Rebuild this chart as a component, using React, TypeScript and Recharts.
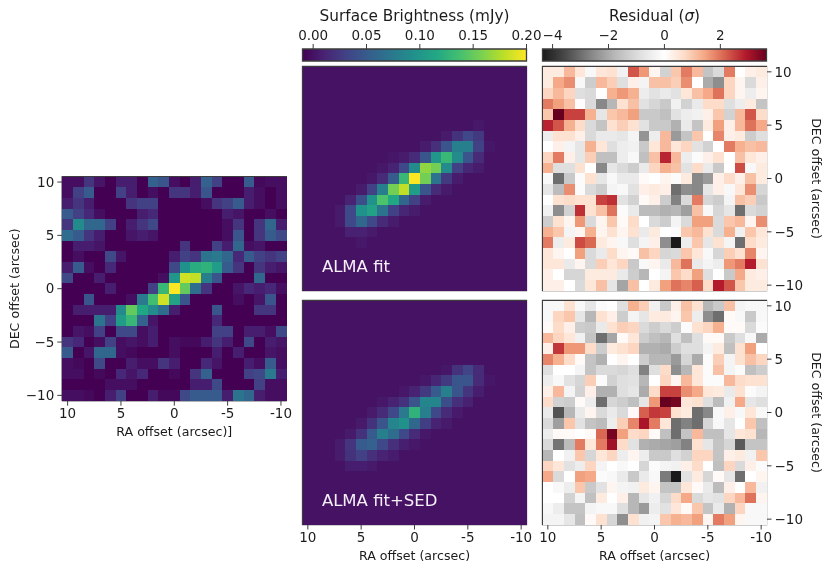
import React from "react";
import {
  Bar,
  BarChart,
  ReferenceArea,
  ReferenceDot,
  Scatter,
  ScatterChart,
  XAxis,
  YAxis,
} from "recharts";

const FONT = "DejaVu Sans";
const INK = "#1c1c1c";
const SPINE = "#3d3d3d";
const PAGE_W = 831;
const PAGE_H = 572;
const CELL = 224 / 21;

const raOffsets = [10, 9, 8, 7, 6, 5, 4, 3, 2, 1, 0, -1, -2, -3, -4, -5, -6, -7, -8, -9, -10];
const decOffsets = [10, 9, 8, 7, 6, 5, 4, 3, 2, 1, 0, -1, -2, -3, -4, -5, -6, -7, -8, -9, -10];
const offsetTicks = [10, 5, 0, -5, -10];
const brightnessTicks = [0, 0.05, 0.1, 0.15, 0.2];
const residualTicks = [-4, -2, 0, 2];

// surface brightness in units of 0.01 mJy, top row first
const observedRows = [
  [-0.2, -0.2, 2.2, 0.2, -1, 0.7, 0.7, -1, 5.5, 4.5, -0.2, -1, 0.7, 5.5, 3, -1, -1, 5, -0.5, -0.2, -0.2],
  [-0.2, 3, 5, -1, -1, 3, 0.7, -1, -0.2, -1, 2.2, 2.2, 0.7, 4.5, -1, -1, -1, 0.7, -0.2, -1, -0.2],
  [0.7, 2.2, 0.7, -1, -1, -1, 2.2, 3, 3, -1, -1, -1, -1, -0.2, 2.2, 3, 5, 0.7, -0.2, -1, -0.2],
  [5, 3, 1.3, -0.2, -1, -1, -1, 0.7, 1.3, -1, -1, -1, -1, -1, -1, 0.7, 0.2, -1, -1, -0.2, -1],
  [2.2, 9, 6, 6, 3, -1, 0.7, 2.2, 3.6, -1, -1, -1, -1, -1, -1, -0.2, 2.2, -1, 2.2, 6, 0.7],
  [6.5, 5, 2.2, 0.7, -1, -1, 0.2, 0.7, 0.2, -1, -1, -1, -1, -1, -1, -0.2, 4.5, -1, 2.2, 5, 3.6],
  [-1, 0.7, 0.7, 0.2, -1, -1, -1, -1, -1, -1, -1, 2.2, -1, -1, 3, 0.7, 6, -0.2, 0.2, -1, -1],
  [-1, -0.2, -1, -1, 3.6, 0.2, -1, -1, -1, -1, 0.7, 3, 2.2, 7, 7.5, 6, 1.3, 5, 3, 2.2, 3],
  [0.7, 5, -0.2, -1, 1.3, -1, -1, -1, -1, -1, 3.6, 9.5, 12, 12.5, 10.5, 5, 2.2, -1, 2.2, 0.7, 0.2],
  [3.6, -1, -1, 0.7, -1, -1, -1, -1, -1, -0.2, 10, 18.5, 18, 8, 4.5, -1, -1, -1, 6, -1, -1],
  [-1, -1, -1, -1, 0.7, -1, -1, -1, 3, 13, 20, 15, 6.5, 2.2, -1, -1, 0.2, 1.3, 0.7, 1.3, -0.2],
  [-1, -1, 4.5, -1, -1, -1, -0.2, 7.5, 13.5, 18.5, 11, 4.5, -1, -1, -1, -1, -0.2, -1, 0.2, 4.5, -1],
  [-1, 0.7, 0.7, 0.7, 0.7, 9, 15, 11.5, 9, 6.5, 0.7, -1, -1, -1, 4.5, -1, -1, -1, 2.2, 2.2, -1],
  [-1, -1, -1, 7, 3, 10.5, 13, 5.5, 0.2, -1, -1, -1, -1, -1, 1.3, -1, -1, -1, -1, -1, -1],
  [-1, 0.2, -0.2, 3, -1, 3.6, 3.6, -0.2, 0.7, -1, -1, -1, -1, -1, 3, 3, -1, 0.7, 0.7, -0.2, 3.6],
  [2.2, 1.3, -1, -0.2, 3, -0.2, 0.2, -0.2, 0.7, -1, -0.2, -0.5, -0.5, 0.7, 2.2, 0.7, -1, 3.6, -1, 0.7, 0.2],
  [5, -1, 0.2, 6, 6, -0.2, -0.5, -1, -1, -1, -0.2, -1, -1, -1, 0.7, -1, 0.7, -1, -1, 0.2, -0.2],
  [-0.2, -0.5, -1, 3.6, -1, -1, 0.7, -0.2, -0.2, 2.2, 0.7, -1, -1, 1.3, 0.2, -1, -1, 0.7, -0.2, 5, -0.2],
  [-0.2, -0.2, -1, -0.5, -1, 1.3, 0.2, 1.3, -1, -1, -0.5, -1, 2.2, 5.5, -1, -1, -1, 3, 3.6, 7.5, 0.7],
  [-1, -1, -1, -1, -0.2, -0.2, -0.2, -1, -1, -1, -1, -1, 0.7, 0.7, 3.6, -1, -1, -1, 3, -0.2, -0.2],
  [-0.2, -0.2, -0.5, -1, 0.7, 3, -1, -1, 0.7, -0.5, -0.5, 3.6, 5, 5, 5, 0.7, 7, 6, 0.7, -0.2, -0.2],
];

const fitRows = [
  [0, 0, 0, 0, 0, 0, 0, 0, 0, 0, 0, 0, 0, 0, 0, 0, 0, 0, 0, 0, 0],
  [0, 0, 0, 0, 0, 0, 0, 0, 0, 0, 0, 0, 0, 0, 0, 0, 0, 0, 0, 0, 0],
  [0, 0, 0, 0, 0, 0, 0, 0, 0, 0, 0, 0, 0, 0, 0, 0, 0, 0, 0, 0, 0],
  [0, 0, 0, 0, 0, 0, 0, 0, 0, 0, 0, 0, 0, 0, 0, 0, 0, 0, 0, 0, 0],
  [0, 0, 0, 0, 0, 0, 0, 0, 0, 0, 0, 0, 0, 0, 0, 0, 0, 0, 0, 0, 0],
  [0, 0, 0, 0, 0, 0, 0, 0, 0, 0, 0, 0, 0, 0, 0, 0, 0.4, 0, 0, 0, 0],
  [0, 0, 0, 0, 0, 0, 0, 0, 0, 0, 0, 0, 0, 0.5, 2, 3.5, 2.5, 0, 0, 0, 0],
  [0, 0, 0, 0, 0, 0, 0, 0, 0, 0, 0, 0.6, 1.8, 4.5, 8, 8, 3, 0.3, 0, 0, 0],
  [0, 0, 0, 0, 0, 0, 0, 0, 0.3, 0.6, 1.5, 4.5, 10, 13, 9, 4.5, 1.5, 0, 0, 0, 0],
  [0, 0, 0, 0, 0, 0, 0, 0.4, 1, 3.5, 9, 16.5, 15.5, 9, 3, 1.2, 0.6, 0, 0, 0, 0],
  [0, 0, 0, 0, 0, 0, 0.4, 1.5, 5, 13, 20, 15.5, 7, 2.5, 0.6, 0, 0, 0, 0, 0, 0],
  [0, 0, 0, 0, 0, 0.6, 3, 8, 15.5, 18, 10.5, 4.5, 1.5, 0.5, 0, 0, 0, 0, 0, 0, 0],
  [0, 0, 0, 0, 1, 4, 9.5, 14, 11.5, 6, 3, 0.6, 0, 0, 0, 0, 0, 0, 0, 0, 0],
  [0, 0, 0, 0.5, 3.5, 9.5, 11, 7, 3, 1.2, 0.6, 0, 0, 0, 0, 0, 0, 0, 0, 0, 0],
  [0, 0, 0, 0.5, 3.5, 6, 3.5, 1.5, 0.6, 0, 0, 0, 0, 0, 0, 0, 0, 0, 0, 0, 0],
  [0, 0, 0, 0, 0.9, 0.9, 0.5, 0, 0, 0, 0, 0, 0, 0, 0, 0, 0, 0, 0, 0, 0],
  [0, 0, 0, 0, 0, 0.4, 0, 0, 0, 0, 0, 0, 0, 0, 0, 0, 0, 0, 0, 0, 0],
  [0, 0, 0, 0, 0, 0, 0, 0, 0, 0, 0, 0, 0, 0, 0, 0, 0, 0, 0, 0, 0],
  [0, 0, 0, 0, 0, 0, 0, 0, 0, 0, 0, 0, 0, 0, 0, 0, 0, 0, 0, 0, 0],
  [0, 0, 0, 0, 0, 0, 0, 0, 0, 0, 0, 0, 0, 0, 0, 0, 0, 0, 0, 0, 0],
  [0, 0, 0, 0, 0, 0, 0, 0, 0, 0, 0, 0, 0, 0, 0, 0, 0, 0, 0, 0, 0],
];

const fitSedRows = [
  [0, 0, 0, 0, 0, 0, 0, 0, 0, 0, 0, 0, 0, 0, 0, 0, 0, 0, 0, 0, 0],
  [0, 0, 0, 0, 0, 0, 0, 0, 0, 0, 0, 0, 0, 0, 0, 0, 0, 0, 0, 0, 0],
  [0, 0, 0, 0, 0, 0, 0, 0, 0, 0, 0, 0, 0, 0, 0, 0, 0, 0, 0, 0, 0],
  [0, 0, 0, 0, 0, 0, 0, 0, 0, 0, 0, 0, 0, 0, 0, 0, 0, 0, 0, 0, 0],
  [0, 0, 0, 0, 0, 0, 0, 0, 0, 0, 0, 0, 0, 0, 0, 0, 0, 0, 0, 0, 0],
  [0, 0, 0, 0, 0, 0, 0, 0, 0, 0, 0, 0, 0, 0, 0, 0, 0, 0, 0, 0, 0],
  [0, 0, 0, 0, 0, 0, 0, 0, 0, 0, 0, 0, 0, 0.3, 2, 3.2, 1.5, 0, 0, 0, 0],
  [0, 0, 0, 0, 0, 0, 0, 0, 0, 0, 0, 0.4, 1.2, 2.5, 4.5, 4.5, 1.5, 0.3, 0, 0, 0],
  [0, 0, 0, 0, 0, 0, 0, 0, 0, 0.4, 1, 2.5, 5, 8, 4.5, 2.2, 0.7, 0, 0, 0, 0],
  [0, 0, 0, 0, 0, 0, 0, 0.4, 1, 2, 4.5, 8.5, 8.5, 4, 1.8, 0.9, 0, 0, 0, 0, 0],
  [0, 0, 0, 0, 0, 0, 0.5, 1.5, 3.5, 7.5, 12.5, 8, 3.5, 1.5, 0.5, 0, 0, 0, 0, 0, 0],
  [0, 0, 0, 0, 0, 0.5, 2, 4.5, 8.5, 9.5, 6, 2.8, 1, 0.5, 0, 0, 0, 0, 0, 0, 0],
  [0, 0, 0, 0, 0.5, 2, 5, 8, 6.5, 3.5, 1.5, 0.4, 0, 0, 0, 0, 0, 0, 0, 0, 0],
  [0, 0, 0, 0.6, 2.2, 5, 5.5, 3.5, 1.8, 0.8, 0.4, 0, 0, 0, 0, 0, 0, 0, 0, 0, 0],
  [0, 0, 0, 0.6, 2, 3, 1.8, 1, 0.6, 0, 0, 0, 0, 0, 0, 0, 0, 0, 0, 0, 0],
  [0, 0, 0, 0, 0.7, 0.7, 0.5, 0, 0, 0, 0, 0, 0, 0, 0, 0, 0, 0, 0, 0, 0],
  [0, 0, 0, 0, 0, 0, 0, 0, 0, 0, 0, 0, 0, 0, 0, 0, 0, 0, 0, 0, 0],
  [0, 0, 0, 0, 0, 0, 0, 0, 0, 0, 0, 0, 0, 0, 0, 0, 0, 0, 0, 0, 0],
  [0, 0, 0, 0, 0, 0, 0, 0, 0, 0, 0, 0, 0, 0, 0, 0, 0, 0, 0, 0, 0],
  [0, 0, 0, 0, 0, 0, 0, 0, 0, 0, 0, 0, 0, 0, 0, 0, 0, 0, 0, 0, 0],
  [0, 0, 0, 0, 0, 0, 0, 0, 0, 0, 0, 0, 0, 0, 0, 0, 0, 0, 0, 0, 0],
];

// residuals in sigma, top row first
const fitResidualRows = [
  [0.4, 0.4, 1.2, 0.5, -0.2, 0.5, 0.6, -0.4, 2.3, 1.6, 0.2, -1.2, 1, 1.9, 1.2, -1.5, -1, 1.9, 0, 0.3, 0.4],
  [0.4, 1.4, 1.7, -0.2, -1.3, 1.2, 0.9, -0.9, 0.3, -0.3, 1.1, 1.1, 0.9, 1.7, 0, -2, -2.5, 0.8, 0.2, -1, 0.3],
  [0.8, 1.2, 0.8, -0.9, -1, 0, 1.3, 1.6, 1.3, -0.5, -0.8, -0.6, -0.8, 0.5, 1.1, 1.4, 2, 0.8, 0.2, -0.5, 0.2],
  [1.9, 1.5, 1.1, 0.05, -1, -2.6, -1.8, 0.6, 1.1, -0.8, -1.1, -1.4, -0.4, -1.2, -0.6, 0.7, 0.7, -0.9, -0.5, 0.4, -1.5],
  [1, 3.65, 2.5, 2.5, 1.3, -0.7, 1, 1.2, 1.5, -1.4, -1.4, -1.6, -0.8, -0.5, -0.4, 0.3, 1, -1.2, 1.2, 2.3, 0.7],
  [2.8, 2.3, 1.3, 0.7, -1, -1.5, 0.6, 0.9, 0.6, -0.8, -1.4, -1.4, -1.9, -0.6, -1.5, 0.4, 1.5, 0.3, 1.2, 2, 1.4],
  [-0.5, 0.6, 0.6, 0.3, -1, -0.6, -0.6, -0.7, -0.3, -2.4, -0.5, 1.2, -2.3, -1.5, 1, 0, 1.8, 0.3, 0.4, -1.3, -0.9],
  [0, 0.3, -0.3, -0.7, 1.3, 0.5, -0.9, -0.5, -0.4, -1.4, 0.5, 1.2, 0.5, 0.8, -0.8, -1.2, 0, 1.9, 1.3, 1.1, 1.2],
  [0.8, 1.9, 0.3, -0.7, 0.9, -1.6, -1.6, -0.5, -0.2, -1.6, 1.1, 2.8, 1.2, -0.5, -0.1, 0.3, 0.6, 0, 1.1, 0.5, 0.3],
  [1.3, -0.9, -0.9, 0.6, 0, -2.6, -0.7, -1, -1.3, -0.6, 0.8, 1.3, 1.1, -0.8, 0.7, -0.6, -1.4, 0, 2.4, -0.2, 0.4],
  [-0.2, -3, -1.4, -0.1, 0.6, -0.7, -0.2, -0.6, -0.6, 0.1, 0, 0.2, -0.1, 0.4, -2.6, -2.3, 0.3, 0.7, 0.3, 1.1, 0.4],
  [-0.7, -1.7, 1.7, -0.1, -1, -1.3, -0.3, -0.2, -0.8, 0.3, 0.4, 0.3, -3, -2.5, -2.6, -0.7, 0.3, -0.2, 0.5, 1.7, -1.1],
  [0, 0.6, 0.7, 0.6, 0.6, 2.5, 2.7, -0.8, -1.2, 0.1, 0.3, -1.3, -2.7, -1, 1.9, -1.1, -1.3, -0.3, 1.1, 0.9, -1.4],
  [-0.4, -2.5, -1.2, 2.7, 0.6, 1.1, 2, -0.1, -0.6, -1.7, -1.7, -1.9, -1.8, -2.2, 1.1, -0.2, -1.1, -0.7, -3, -1, -1.2],
  [-1.3, 0.6, 0.2, 1.6, -1, 0.2, 1, 0.1, 0.7, 0, -1, -1.3, -0.3, -1, 1.5, 1.5, -1, 1, 1.2, 0.2, 1.7],
  [1.3, 1, -0.3, 0.2, 1.3, 0.2, 0.6, 0.2, 0.6, -0.6, 0.4, 0, -0.1, 1, 1.2, 0.6, -1, 1.3, -0.4, 1, 0.5],
  [1.9, -0.5, 0.4, 2.4, 2.1, 0.4, 0.2, -0.2, -0.9, -0.3, 0.3, -2.5, -4.36, -0.5, 1, -0.7, 0.6, -0.3, -3, 0.7, 0.4],
  [0.5, 0.2, 0, 1.5, -1, -0.6, 0.7, 0.2, 0.1, 1.1, 0.8, -1.1, -1, 1, 0.5, -0.2, -1.1, 0.9, 0.6, 1.8, 0.2],
  [0.5, 0.5, -0.6, 0.2, -1, 0.9, 0.5, 0.8, -1.4, -0.2, 0.2, -0.6, 1.2, 2, -0.6, -0.3, -0.5, 1.6, 1.9, 2.9, 0.6],
  [0.3, 0, -1.1, -1.1, 0.4, 0.4, 0.4, -0.6, -1.3, -1.8, 0, -0.3, 1, 0.7, 1.5, -0.9, 0, -1.4, 1.4, 0.4, 0.3],
  [0.3, 0.3, 0, -1, 0.5, 1.1, -0.7, -2.1, 1.1, 0, 0.4, 1.5, 2, 1.8, 2.2, 0.7, 2.9, 2.3, 1, 0.4, 0.4],
];

const fitSedResidualRows = [
  [-0.2, -0.2, 0.6, -0.2, -0.7, -0.1, 0, -0.9, 1.3, 0.9, -0.4, -1.4, 0.3, 1.1, 0.6, -1.8, -1.4, 1.1, -0.3, -0.2, -0.2],
  [-0.2, 0.8, 1, -0.7, -1.8, 0.6, 0.3, -1.3, -0.3, -0.7, 0.4, 0.4, 0.2, 1, -0.5, -2.5, -3, 0.1, -0.2, -1.4, -0.2],
  [0.1, 0.7, 0.3, -1.3, -1.4, -0.6, 0.6, 0.9, 0.8, -1, -1.3, -1, -1.3, -0.1, 0.6, 0.8, 1.3, 0.1, 0.1, -1, -0.1],
  [1.2, 0.8, 0.5, -0.4, -1.5, -3, -2.1, 0.1, 0.5, -1.3, -1.6, -1.8, -0.9, -1.6, -0.9, 0.1, 0.1, -1.4, -0.9, -0.2, -2],
  [0.3, 2.6, 1.6, 1.6, 0.7, -1.3, 0.4, 0.6, 0.8, -1.9, -1.9, -2, -1.3, -0.9, -0.9, -0.3, 0.4, -1.6, 0.6, 1.5, 0],
  [1.8, 1.3, 0.7, 0.1, -1.5, -1.9, 0, 0.2, 0, -1.3, -1.8, -1.8, -2.3, -1.1, -2, -0.1, 0.9, -0.3, 0.6, 1.1, 0.8],
  [-0.9, 0, 0, -0.3, -1.5, -1, -1, -1.1, -0.9, -2.7, -0.9, 0.7, -2.5, -1.8, 0.5, -0.1, 1.1, -0.3, -0.1, -1.6, -1.3],
  [-0.5, -0.2, -0.8, -1.1, 0.9, -0.1, -1.2, -0.9, -0.8, -1.8, 0, 0.8, 0.2, 1.2, 0.5, -0.1, -0.1, 1.2, 0.7, 0.6, 0.6],
  [0.3, 1.2, -0.3, -1.2, 0.3, -1.9, -1.9, -0.9, -0.7, -2, 0.7, 2.5, 2.5, 1.7, 1.4, 0.5, 0.4, -0.6, 0.6, -0.1, -0.3],
  [0.7, -1.2, -1.3, 0.1, -0.5, -3, -1.1, -1.3, -1.6, -0.7, 1.6, 3.65, 3.5, 0.5, 0.6, -0.9, -1.7, -0.4, 1.4, -0.7, -0.9],
  [-0.6, -3.4, -1.8, -0.6, 0.2, -1, -0.6, -1, 0.1, 2.2, 2.6, 2.5, 0.6, 0.4, -3, -2.6, -0.2, 0.3, -0.2, 0.5, -0.2],
  [-1, -2.2, 1, -0.8, -1.5, -1.7, -0.5, 0.9, 1.8, 3, 1.9, 0.5, -3, -2.7, -3, -1.1, -0.2, -0.7, 0, 1, -1.6],
  [-0.5, 0.1, 0.1, 0, 0.1, 2.1, 3.5, 1.5, 0.7, 0.8, 0.1, -1.6, -3, -1.5, 1.2, -1.6, -1.6, -0.7, 0.5, 0.6, -1.8],
  [-1, -2.9, -1.7, 1.9, 0.5, 1.9, 3.1, 0.7, -0.8, -1.9, -2, -2.1, -2.2, -2.7, 0.6, -0.7, -1.5, -1.1, -3.3, -1.5, -1.5],
  [-1.8, 0, -0.4, 1, -1.1, 0.5, 0.8, -0.5, 0.2, -0.5, -1.4, -1.4, -0.9, -1.2, 0.8, 0.8, -1.5, 0.3, 0.4, -0.4, 1],
  [0.8, 0.5, -0.8, -0.5, 0.8, -0.3, 0, -0.2, 0, -1.1, -0.1, -0.3, -0.4, 0.3, 0.7, 0, -1.6, 0.8, -1, 0.3, -0.1],
  [1.4, -1, 0, 1.5, 1.4, -0.1, -0.2, -0.6, -1.4, -0.6, -0.2, -2.8, -4.36, -0.8, 0.4, -1.1, 0.1, -0.7, -3, 0, 0.2],
  [0, -0.2, -0.5, 1, -1.4, -0.8, 0.2, -0.3, -0.4, 0.4, 0.2, -1.5, -1.5, 0.5, 0.1, -0.6, -1.7, 0.3, 0, 1.2, -0.4],
  [0, 0, -1.2, -0.3, -1.6, 0.4, 0, 0.3, -1.8, -0.7, -0.4, -1.1, 0.7, 1.4, -1, -0.7, -0.8, 0.8, 1.2, 2, 0.2],
  [-0.2, -0.5, -1.5, -1.5, -0.3, -0.2, -0.2, -0.9, -1.8, -2.3, -0.5, -0.8, 0.5, 0.1, 1, -1.5, -0.6, -1.9, 0.8, -0.2, -0.2],
  [-0.3, -0.3, -0.7, -1.6, 0.1, 0.6, -1.1, -2.5, 0.6, -0.4, -0.3, 1, 1.3, 1.2, 1.5, 0.2, 1.9, 1.5, 0.2, -0.2, -0.2],
];

// colour maps, as [value, colour] stops
const viridisStops: [number, string][] = [
  [-1, "#440154"],
  [1.1, "#482475"],
  [3.2, "#414487"],
  [5.3, "#355f8d"],
  [7.4, "#2a788e"],
  [9.5, "#21918c"],
  [11.6, "#22a884"],
  [13.7, "#44bf70"],
  [15.8, "#7ad151"],
  [17.9, "#bddf26"],
  [20, "#fde725"],
];
const rdgyStops: [number, string][] = [
  [-4.36, "#1a1a1a"],
  [-3.49, "#4d4d4d"],
  [-2.62, "#878787"],
  [-1.74, "#bababa"],
  [-0.87, "#e0e0e0"],
  [0, "#ffffff"],
  [0.73, "#fddbc7"],
  [1.46, "#f4a582"],
  [2.19, "#d6604d"],
  [2.92, "#b2182b"],
  [3.65, "#67001f"],
];

const hexToRgb = (hex: string) => [1, 3, 5].map((i) => parseInt(hex.slice(i, i + 2), 16));

function colorFor(stops: [number, string][], value: number) {
  if (value <= stops[0][0]) return stops[0][1];
  for (let i = 1; i < stops.length; i++) {
    if (value <= stops[i][0]) {
      const t = (value - stops[i - 1][0]) / (stops[i][0] - stops[i - 1][0]);
      const a = hexToRgb(stops[i - 1][1]);
      const b = hexToRgb(stops[i][1]);
      return `rgb(${a.map((c, k) => Math.round(c + (b[k] - c) * t)).join(",")})`;
    }
  }
  return stops[stops.length - 1][1];
}

const toCells = (rows: number[][]) =>
  rows.flatMap((row, r) =>
    row.map((value, c) => ({ ra: raOffsets[c], dec: decOffsets[r], value }))
  );

const minusSign = (v: number) => String(v).replace("-", "\u2212");

const tickStyle = { fontSize: 13.5, fill: INK, fontFamily: FONT };
const labelStyle = { fontSize: 12.6, fill: INK, fontFamily: FONT };

interface PanelProps {
  rows: number[][];
  stops: [number, string][];
  left: number;
  top: number;
  yAxis: "left" | "right" | "plain";
  xLabel?: string;
  note?: string;
}

function HeatPanel({ rows, stops, left, top, yAxis, xLabel, note }: PanelProps) {
  const axisRoom = 60;
  const right = yAxis === "right";
  const margin = {
    top,
    left: right ? left : left - axisRoom,
    right: right ? PAGE_W - left - 224 - axisRoom : PAGE_W - left - 224,
    bottom: PAGE_H - top - 224 - 44,
  };
  return (
    <div style={{ position: "absolute", left: 0, top: 0 }}>
      <ScatterChart width={PAGE_W} height={PAGE_H} margin={margin}>
        <XAxis
          type="number"
          dataKey="ra"
          domain={[-10.5, 10.5]}
          reversed
          ticks={offsetTicks}
          interval={0}
          height={44}
          tickSize={5}
          tickMargin={3}
          stroke={SPINE}
          tick={xLabel ? tickStyle : false}
          label={xLabel ? { value: xLabel, position: "insideBottom", offset: 9, style: labelStyle } : undefined}
        />
        <YAxis
          type="number"
          dataKey="dec"
          domain={[-10.5, 10.5]}
          ticks={offsetTicks}
          interval={0}
          width={axisRoom}
          orientation={right ? "right" : "left"}
          tickSize={5}
          tickMargin={3}
          stroke={SPINE}
          tick={yAxis === "plain" ? false : tickStyle}
          tickFormatter={minusSign}
          label={
            yAxis === "plain"
              ? undefined
              : right
              ? { value: "DEC offset (arcsec)", angle: 90, position: "insideRight", offset: 10, style: { ...labelStyle, textAnchor: "middle" } }
              : { value: "DEC offset (arcsec)", angle: -90, position: "insideLeft", offset: 12, style: { ...labelStyle, textAnchor: "middle" } }
          }
        />
        <Scatter
          data={toCells(rows)}
          isAnimationActive={false}
          shape={(p: any) => (
            <rect
              x={p.cx - CELL / 2}
              y={p.cy - CELL / 2}
              width={CELL + 0.5}
              height={CELL + 0.5}
              shapeRendering="crispEdges"
              fill={colorFor(stops, p.payload.value)}
            />
          )}
        />
        <ReferenceArea x1={-10.5} x2={10.5} y1={-10.5} y2={10.5} fill="none" stroke={SPINE} strokeWidth={1.3} />
        {note && (
          <ReferenceDot
            x={9.15}
            y={-8.2}
            r={0}
            fill="none"
            stroke="none"
            label={{ value: note, position: "right", fill: "#f5f0f7", fontSize: 16.5, fontFamily: FONT }}
          />
        )}
      </ScatterChart>
    </div>
  );
}

interface BarProps {
  id: string;
  stops: [number, string][];
  stopMin: number;
  stopMax: number;
  domain: [number, number];
  ticks: number[];
  left: number;
  format: (v: number) => string;
}

function Colorbar({ id, stops, stopMin, stopMax, domain, ticks, left, format }: BarProps) {
  const data = [{ name: id, range: domain }];
  return (
    <div style={{ position: "absolute", left: 0, top: 0 }}>
      <BarChart
        width={PAGE_W}
        height={80}
        layout="vertical"
        data={data}
        barCategoryGap={0}
        margin={{ top: 49 - 30, left, right: PAGE_W - left - 224, bottom: 80 - 61 }}
      >
        <defs>
          <linearGradient id={id} x1="0" y1="0" x2="1" y2="0">
            {stops.map(([v, c]) => (
              <stop key={v} offset={(v - stopMin) / (stopMax - stopMin)} stopColor={c} />
            ))}
          </linearGradient>
        </defs>
        <XAxis
          type="number"
          orientation="top"
          domain={domain}
          ticks={ticks}
          interval={0}
          height={30}
          tickSize={5}
          tickMargin={4}
          stroke={SPINE}
          axisLine={false}
          tick={tickStyle}
          tickFormatter={format}
        />
        <YAxis type="category" dataKey="name" hide />
        <Bar dataKey="range" fill={`url(#${id})`} stroke={SPINE} strokeWidth={1.3} isAnimationActive={false} />
      </BarChart>
    </div>
  );
}

const titleStyle = (left: number): React.CSSProperties => ({
  position: "absolute",
  left,
  top: 6,
  width: 224,
  textAlign: "center",
  fontFamily: FONT,
  fontSize: 15.3,
  lineHeight: "20px",
  color: INK,
  whiteSpace: "nowrap",
});

export default function App() {
  return (
    <div
      style={{
        position: "absolute",
        left: 0,
        top: 0,
        width: PAGE_W,
        height: PAGE_H,
        background: "#fff",
        overflow: "hidden",
        filter: "blur(0.4px)",
      }}
    >
      <HeatPanel rows={observedRows} stops={viridisStops} left={62.3} top={176.7} yAxis="left" xLabel="RA offset (arcsec)]" />
      <HeatPanel rows={fitRows} stops={viridisStops} left={302.5} top={66.5} yAxis="plain" note="ALMA fit" />
      <HeatPanel rows={fitResidualRows} stops={rdgyStops} left={542.5} top={66.5} yAxis="right" />
      <HeatPanel rows={fitSedRows} stops={viridisStops} left={302.5} top={300.5} yAxis="plain" xLabel="RA offset (arcsec)" note="ALMA fit+SED" />
      <HeatPanel rows={fitSedResidualRows} stops={rdgyStops} left={542.5} top={300.5} yAxis="right" xLabel="RA offset (arcsec)" />
      <Colorbar
        id="viridisBar"
        stops={viridisStops}
        stopMin={-1}
        stopMax={20}
        domain={[-0.01, 0.2]}
        ticks={brightnessTicks}
        left={302.5}
        format={(v) => v.toFixed(2)}
      />
      <Colorbar
        id="residualBar"
        stops={rdgyStops}
        stopMin={-4.36}
        stopMax={3.65}
        domain={[-4.36, 3.65]}
        ticks={residualTicks}
        left={542.5}
        format={minusSign}
      />
      <div style={titleStyle(302.5)}>Surface Brightness (mJy)</div>
      <div style={titleStyle(542.5)}>
        Residual (<i>σ</i>)
      </div>
    </div>
  );
}
